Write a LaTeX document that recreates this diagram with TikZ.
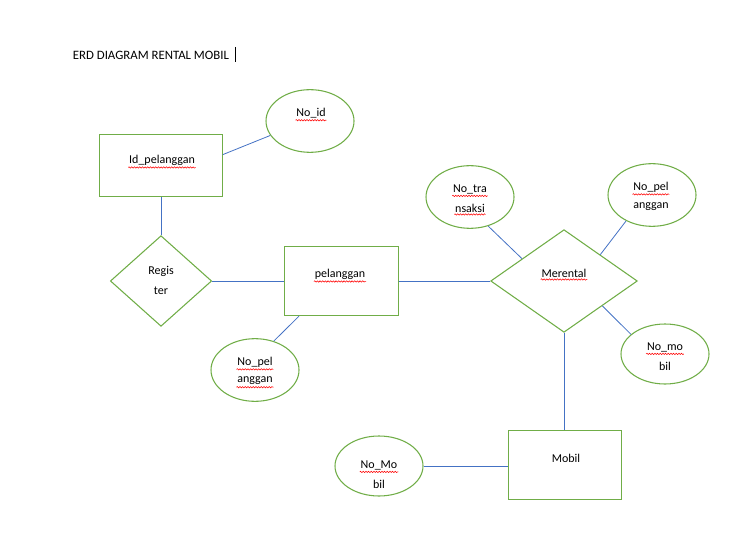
\documentclass[tikz,border=0pt]{standalone}
\usepackage{fontspec}
\setmainfont{Carlito}
\usetikzlibrary{shapes.geometric,decorations.pathmorphing}
\definecolor{gr}{HTML}{70AD47}
\definecolor{bl}{HTML}{4472C4}
\begin{document}
\begin{tikzpicture}[x=0.75pt,y=-0.75pt,
  ent/.style={draw=gr,line width=0.8pt,rectangle,inner sep=0,minimum width=#1},
  att/.style={draw=gr,line width=0.8pt,ellipse,inner sep=0,minimum width=66pt,minimum height=47pt},
  rel/.style={draw=gr,line width=0.8pt,diamond,inner sep=0},
  txt/.style={font=\fontsize{9pt}{10pt}\selectfont,inner sep=0.5pt},
  con/.style={draw=bl,line width=0.6pt},
  sq/.style={draw=red,line width=0.4pt,decorate,decoration={snake,amplitude=0.5pt,segment length=2pt}}]
\useasboundingbox (0,0) rectangle (745,541);
\node[txt,anchor=base west,font=\fontsize{9.6pt}{11pt}\selectfont] (title) at (72,60) {ERD DIAGRAM RENTAL MOBIL};
\draw[line width=0.5pt] (235,47) -- (235,62);
% shapes
\node[ent,minimum width=92pt,minimum height=47pt] (idp) at (161,165.5) {};
\node[att] (noid) at (310,121) {};
\node[rel,minimum width=76pt,minimum height=68pt] (reg) at (161,281) {};
\node[ent,minimum width=85pt,minimum height=52pt] (pel) at (341.5,281) {};
\node[att] (nopel1) at (255,370) {};
\node[rel,minimum width=110pt,minimum height=77pt] (mer) at (564,281) {};
\node[att] (notra) at (470,197) {};
\node[att] (nopel2) at (652,195) {};
\node[att,minimum height=45pt] (nomo1) at (665,354) {};
\node[ent,minimum width=85pt,minimum height=52pt] (mob) at (565,465) {};
\node[att,minimum height=45pt] (nomo2) at (379,466) {};
% connectors
\draw[con] (idp.10) -- (noid.200);
\draw[con] (idp.south) -- (reg.north);
\draw[con] (reg.east) -- (pel.west);
\draw[con] ([xshift=11]pel.south west) -- (nopel1.57);
\draw[con] (pel.east) -- (mer.west);
\draw[con] (notra.-58) -- (mer.152);
\draw[con] (nopel2.-135) -- (mer.36);
\draw[con] (nomo1.150) -- (mer.-33);
\draw[con] (mer.south) -- (mer.south |- mob.north);
\draw[con] (nomo2.east) -- (nomo2.east -| mob.west);
% texts
\node[txt] (t1) at (162,160) {Id\_pelanggan};
\node[txt] (t2) at (311,113) {No\_id};
\node[txt] (t3) at (161,271) {Regis};
\node[txt] (t4) at (161,291) {ter};
\node[txt] (t5) at (340,274) {pelanggan};
\node[txt] (t6) at (255,362) {No\_pel};
\node[txt] (t7) at (255,381) {anggan};
\node[txt] (t8) at (564,273) {Merental};
\node[txt] (t9) at (470,189) {No\_tra};
\node[txt] (t10) at (470,208) {nsaksi};
\node[txt] (t11) at (651,187) {No\_pel};
\node[txt] (t12) at (651,207) {anggan};
\node[txt] (t13) at (665,347) {No\_mo};
\node[txt] (t14) at (665,366) {bil};
\node[txt] (t15) at (566,458) {Mobil};
\node[txt] (t16) at (379,465) {No\_Mo};
\node[txt] (t17) at (379,484) {bil};
% spell-check squiggles
\foreach \n in {t1,t2,t5,t6,t7,t8,t9,t10,t11,t13,t16}
  \draw[sq] ([yshift=-1pt]\n.south west) -- ([yshift=-1pt]\n.south east);
\end{tikzpicture}
\end{document}
